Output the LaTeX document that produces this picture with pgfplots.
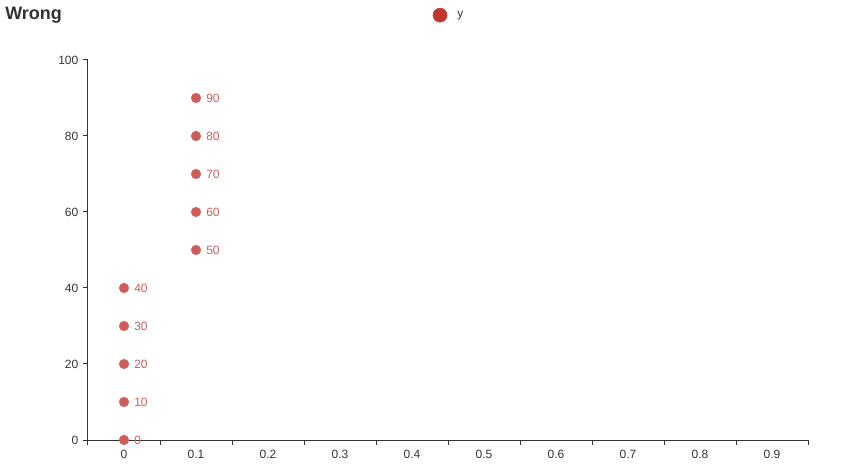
\documentclass[border=0pt]{standalone}
\usepackage{fontspec}
\setmainfont{Liberation Sans}
\usepackage{pgfplots}
\pgfplotsset{compat=1.18}
\definecolor{ser}{HTML}{C23531}
\definecolor{pt}{HTML}{CE5D5A}
\definecolor{txt}{HTML}{333333}
\begin{document}
\begin{tikzpicture}[x=1pt,y=1pt]
\useasboundingbox (-66,-25.5) rectangle (567.75,330);
\node[anchor=west,font=\bfseries\fontsize{13.5}{15}\selectfont,text=txt,inner sep=0] at (-62.25,318.75) {Wrong};
\begin{axis}[
  at={(0,0)}, anchor=south west,
  scale only axis, width=540pt, height=285pt,
  xmin=-0.5, xmax=9.5, ymin=0, ymax=100,
  axis lines=left,
  axis line style={-, draw=txt, line width=0.75pt},
  xtick={-0.5,0.5,...,9.5},
  x tick label as interval,
  xticklabels={0,0.1,0.2,0.3,0.4,0.5,0.6,0.7,0.8,0.9},
  ytick={0,20,...,100},
  tick align=outside,
  major tick length=3.75pt,
  tick style={draw=txt, line width=0.75pt},
  ticklabel style={font=\fontsize{9}{10}\selectfont, text=txt},
  /pgf/number format/assume math mode=true,
  legend style={at={(0.5,1.118)}, anchor=center, draw=none, fill=none,
    inner sep=0pt, font=\fontsize{9}{10}\selectfont, text=txt,
    nodes={inner sep=0pt}, column sep=7.5pt},
  legend image code/.code={\fill[ser] (0,0) circle (5.25pt);},
]
\addplot[color=pt, only marks, mark=*, mark size=3.55pt,
  mark options={fill=pt, draw=pt, line width=0.4pt},
  nodes near coords,
  nodes near coords style={anchor=west, text=pt, inner sep=0pt, xshift=7.5pt,
    font=\fontsize{9}{10}\selectfont}]
  coordinates {
  (0,0) (0,10) (0,20) (0,30) (0,40)
  (1,50) (1,60) (1,70) (1,80) (1,90)
  };
\addlegendentry{y}
\end{axis}
\end{tikzpicture}
\end{document}
